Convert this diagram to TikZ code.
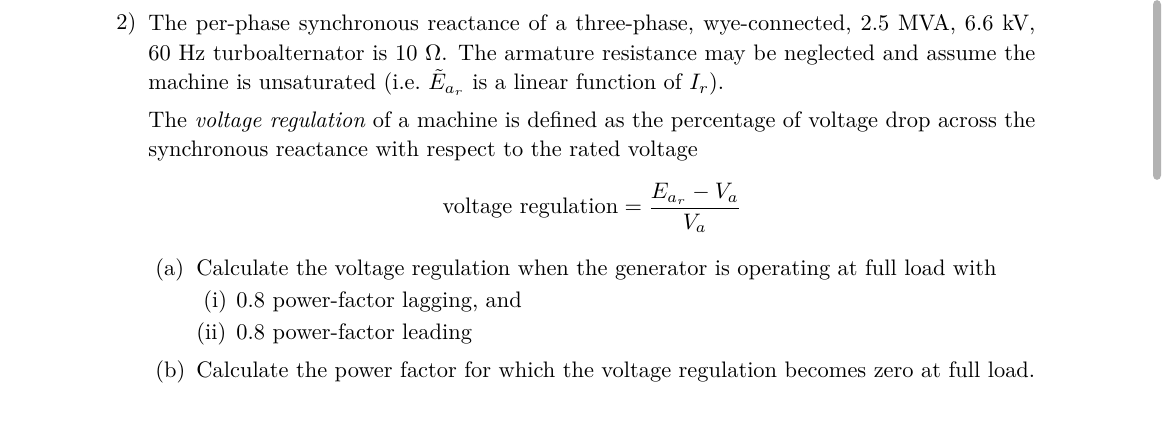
\documentclass[tikz,border=0pt]{standalone}
\usepackage{amsmath}
\begin{document}
\begin{tikzpicture}[x=0.446pt,y=-0.446pt,
  txt/.style={anchor=base west,inner sep=0pt,font=\normalsize},
  par/.style={anchor=north west,inner sep=0pt,text width=395.6pt,align=justify,font=\fontsize{10}{13.2}\selectfont}]
\useasboundingbox (0,0) rectangle (1170,428);
\fill[gray!60,rounded corners=2pt] (1153,0) rectangle (1161,180);
\node[txt] (n2) at (116,30) {2)};
\node[par] (p1) at (148,14) {The per-phase synchronous reactance of a three-phase, wye-connected, 2.5 MVA, 6.6 kV, 60 Hz turboalternator is 10 $\Omega$. The armature resistance may be neglected and assume the machine is unsaturated (i.e.\ $\tilde{E}_{a_r}$ is a linear function of $I_r$).};
\node[par] (p2) at (148,111) {The \emph{voltage regulation} of a machine is defined as the percentage of voltage drop across the synchronous reactance with respect to the rated voltage};
\node[inner sep=0pt] (eq) at (592,208) {$\displaystyle \text{voltage regulation} = \frac{E_{a_r}-V_a}{V_a}$};
\node[txt] (la) at (155,276) {(a)};
\node[txt] (ta) at (196,276) {Calculate the voltage regulation when the generator is operating at full load with};
\node[txt] (li) at (203,308) {(i)};
\node[txt] (ti) at (236,308) {0.8 power-factor lagging, and};
\node[txt] (lii) at (196,340) {(ii)};
\node[txt] (tii) at (236,340) {0.8 power-factor leading};
\node[txt] (lb) at (155,378) {(b)};
\node[txt] (tb) at (196,378) {Calculate the power factor for which the voltage regulation becomes zero at full load.};
\end{tikzpicture}
\end{document}
